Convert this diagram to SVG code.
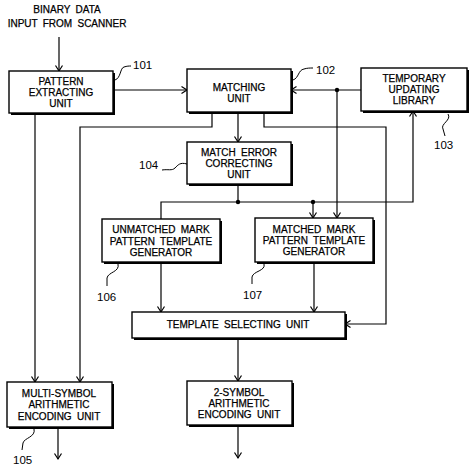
<svg xmlns="http://www.w3.org/2000/svg" width="474" height="470" viewBox="0 0 474 470">
<defs>
<marker id="ah" markerWidth="10" markerHeight="10" refX="6" refY="4" orient="auto" markerUnits="userSpaceOnUse">
<path d="M0.5,0.5 L6,4 L0.5,7.5" fill="none" stroke="#000" stroke-width="1.2"/>
</marker>
</defs>
<style>
.bx{fill:#fff;stroke:#000;stroke-width:1.4}
.sh{fill:#000}
.t{font-family:"Liberation Sans",Arial,sans-serif;font-size:10px;word-spacing:2.5px;text-anchor:middle;fill:#000;stroke:#000;stroke-width:0.25}
.n{font-family:"Liberation Sans",Arial,sans-serif;font-size:11.5px;fill:#000}
.c{fill:none;stroke:#000;stroke-width:1.2}
.a{marker-end:url(#ah)}
.ld{fill:none;stroke:#000;stroke-width:1}
</style>
<rect width="474" height="470" fill="#fff"/>
<text class="t" x="67" y="13">BINARY DATA</text>
<text class="t" x="67" y="27">INPUT FROM SCANNER</text>
<g id="connectors">
<path class="c a" d="M59,37 V71"/>
<path class="c a" d="M113,90 H187"/>
<path class="c a" d="M361,90 H291"/>
<circle cx="337" cy="90" r="2.2"/>
<path class="c a" d="M337,90 V218"/>
<path class="c a" d="M212,112 V127 H80 V382"/>
<path class="c a" d="M264,112 V127 H386 V324 H345"/>
<path class="c a" d="M238,112 V142"/>
<path class="c" d="M238,184 V202"/>
<circle cx="238" cy="202" r="2.2"/>
<path class="c a" d="M161,219 V202 H413 V111"/>
<circle cx="313" cy="202" r="2.2"/>
<path class="c a" d="M313,202 V218"/>
<path class="c a" d="M161,262 V312"/>
<path class="c a" d="M314,262 V312"/>
<path class="c a" d="M238,338 V381"/>
<path class="c a" d="M238,425 V458"/>
<path class="c a" d="M35,113 V382"/>
<path class="c a" d="M58,427 V459"/>
</g>
<g id="n101">
<rect class="sh" x="11" y="73" width="104" height="42"/>
<rect class="bx" x="9" y="71" width="104" height="42"/>
<text class="t" x="61" y="85">PATTERN</text>
<text class="t" x="61" y="96">EXTRACTING</text>
<text class="t" x="61" y="107">UNIT</text>
<path class="ld" d="M115,80 C121,78 120,68 124,67 C127,66 129,66 131,66"/>
<text class="n" x="133" y="69">101</text>
</g>
<g id="n102">
<rect class="sh" x="189" y="71" width="104" height="43"/>
<rect class="bx" x="187" y="69" width="104" height="43"/>
<text class="t" x="239" y="91">MATCHING</text>
<text class="t" x="239" y="102">UNIT</text>
<path class="ld" d="M293,80 C299,78 298,70 304,69 C307,68 310,68 313,68"/>
<text class="n" x="316" y="74">102</text>
</g>
<g id="n103">
<rect class="sh" x="363" y="70" width="106" height="43"/>
<rect class="bx" x="361" y="68" width="106" height="43"/>
<text class="t" x="414" y="82">TEMPORARY</text>
<text class="t" x="414" y="93">UPDATING</text>
<text class="t" x="414" y="104">LIBRARY</text>
<path class="ld" d="M448,114 C452,120 440,124 443,129 L445,136"/>
<text class="n" x="434" y="149">103</text>
</g>
<g id="n104">
<rect class="sh" x="189" y="144" width="104" height="42"/>
<rect class="bx" x="187" y="142" width="104" height="42"/>
<text class="t" x="239" y="156">MATCH ERROR</text>
<text class="t" x="239" y="167">CORRECTING</text>
<text class="t" x="239" y="178">UNIT</text>
<path class="ld" d="M187,164 C180,162 178,165 175,168 C172,171 168,169 162,170"/>
<text class="n" x="139" y="169">104</text>
</g>
<g id="n106">
<rect class="sh" x="104" y="221" width="118" height="43"/>
<rect class="bx" x="102" y="219" width="118" height="43"/>
<text class="t" x="161" y="233">UNMATCHED MARK</text>
<text class="t" x="161" y="245">PATTERN TEMPLATE</text>
<text class="t" x="161" y="256">GENERATOR</text>
<path class="ld" d="M118,264 C120,272 108,272 107,278 L107,286"/>
<text class="n" x="97" y="301">106</text>
</g>
<g id="n107">
<rect class="sh" x="257" y="220" width="118" height="44"/>
<rect class="bx" x="255" y="218" width="118" height="44"/>
<text class="t" x="314" y="233">MATCHED MARK</text>
<text class="t" x="314" y="244">PATTERN TEMPLATE</text>
<text class="t" x="314" y="255">GENERATOR</text>
<path class="ld" d="M264,264 C266,271 253,271 252,277 L252,284"/>
<text class="n" x="243" y="299">107</text>
</g>
<g id="nTS">
<rect class="sh" x="134" y="314" width="213" height="26"/>
<rect class="bx" x="132" y="312" width="213" height="26"/>
<text class="t" x="238" y="328">TEMPLATE SELECTING UNIT</text>
</g>
<g id="n2S">
<rect class="sh" x="189" y="383" width="105" height="44"/>
<rect class="bx" x="187" y="381" width="105" height="44"/>
<text class="t" x="239" y="396">2-SYMBOL</text>
<text class="t" x="239" y="407">ARITHMETIC</text>
<text class="t" x="239" y="418">ENCODING UNIT</text>
</g>
<g id="n105">
<rect class="sh" x="9" y="384" width="105" height="45"/>
<rect class="bx" x="7" y="382" width="105" height="45"/>
<text class="t" x="59" y="397">MULTI-SYMBOL</text>
<text class="t" x="59" y="408">ARITHMETIC</text>
<text class="t" x="59" y="420">ENCODING UNIT</text>
<path class="ld" d="M34,429 C36,437 24,438 23,443 L22,450"/>
<text class="n" x="13" y="464">105</text>
</g>
</svg>
